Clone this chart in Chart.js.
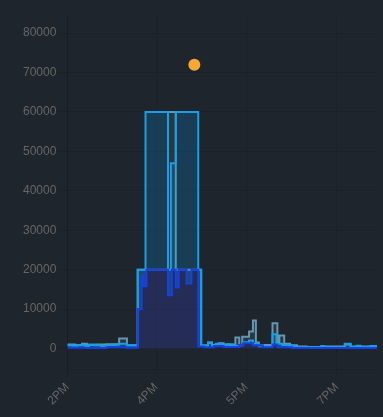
<!DOCTYPE html>
<html>
<head>
<meta charset="utf-8">
<script src="https://cdn.jsdelivr.net/npm/chart.js@4"></script>
<style>
  html, body { margin: 0; padding: 0; background: #1f252c; }
  #wrap { width: 383px; height: 417px; }
</style>
</head>
<body>
<div id="wrap"><canvas id="chart"></canvas></div>
<script>
// x = sample number along the time axis, tick labels sit on some samples
const tickLabels = ['2PM', '4PM', '5PM', '7PM'];
const tickSamples = [0, 91, 183, 276];
const lastSample = 317;
const yTicks = [0, 10000, 20000, 30000, 40000, 50000, 60000, 70000, 80000];

// cyan series
const cyanX = [0,5,10,18,22,28,35,40,50,53,61,72,80,103,106,111,134,137,144,148,152,158,163,170,176,180,186,190,196,210,214,220,226,233,245,260,263,284,290,296,300,310,317];
const cyanY = [800,700,900,600,1000,800,500,900,1000,1200,800,20000,60000,20000,47000,60000,20000,600,1600,700,1200,800,1100,600,800,1600,2000,1200,500,3600,1200,900,700,400,300,600,300,1200,400,700,400,600,500];

// pale series
const paleX = [0,8,15,20,30,40,53,61,72,103,111,137,144,148,155,160,166,172,176,179,186,190,193,196,210,215,217,222,228,235,245,260,284,290,317];
const paleY = [1000,800,1200,900,1000,1100,2500,800,20000,60000,20000,800,1400,900,1300,1000,800,2800,800,3000,4300,7100,1500,900,6400,1500,3300,1200,800,500,400,500,1000,500,400];

// dark blue series
const darkX = [0,20,40,60,72,76,78,81,103,107,111,114,122,127,134,140,150,160,176,180,190,200,210,215,230,317];
const darkY = [200,100,300,200,10000,18500,15800,20000,13500,20000,15500,20000,16500,20000,500,300,600,400,900,1300,800,300,1000,300,100,100];

// single peak marker
const peakX = [130];
const peakY = [72000];

function pts(xs, ys) {
  return xs.map((x, i) => ({ x: x, y: ys[i] }));
}

new Chart(document.getElementById('chart'), {
  type: 'line',
  data: {
    datasets: [
      {
        data: pts(peakX, peakY),
        showLine: false,
        pointRadius: 6,
        pointBackgroundColor: '#f7a834',
        pointBorderColor: '#f7a834',
        pointBorderWidth: 0
      },
      {
        data: pts(darkX, darkY),
        stepped: 'before',
        borderColor: '#1540e6',
        borderWidth: 2,
        backgroundColor: 'rgba(23,12,142,0.25)',
        fill: 'origin',
        pointRadius: 0
      },
      {
        data: pts(cyanX, cyanY),
        stepped: 'before',
        borderColor: '#199fe6',
        borderWidth: 2,
        backgroundColor: 'rgba(0,150,230,0.22)',
        fill: '-1',
        pointRadius: 0
      },
      {
        data: pts(paleX, paleY),
        stepped: 'before',
        borderColor: 'rgba(110,170,200,0.85)',
        borderWidth: 2,
        backgroundColor: 'rgba(110,160,190,0.15)',
        fill: 'origin',
        pointRadius: 0
      }
    ]
  },
  options: {
    responsive: true,
    maintainAspectRatio: false,
    animation: false,
    layout: { padding: { left: 20, top: 15, right: 0, bottom: 6 } },
    plugins: {
      legend: { display: false },
      tooltip: { enabled: false }
    },
    scales: {
      x: {
        type: 'linear',
        min: 0,
        max: lastSample,
        afterBuildTicks: (axis) => {
          axis.ticks = tickSamples.map(v => ({ value: v }));
        },
        ticks: {
          autoSkip: false,
          minRotation: 45,
          maxRotation: 45,
          callback: (v) => tickLabels[tickSamples.indexOf(v)]
        }
      },
      y: {
        min: -5300,
        max: 84600,
        afterBuildTicks: (axis) => {
          axis.ticks = yTicks.map(v => ({ value: v }));
        },
        ticks: {
          callback: (v) => String(v)
        }
      }
    }
  }
});
</script>
</body>
</html>
